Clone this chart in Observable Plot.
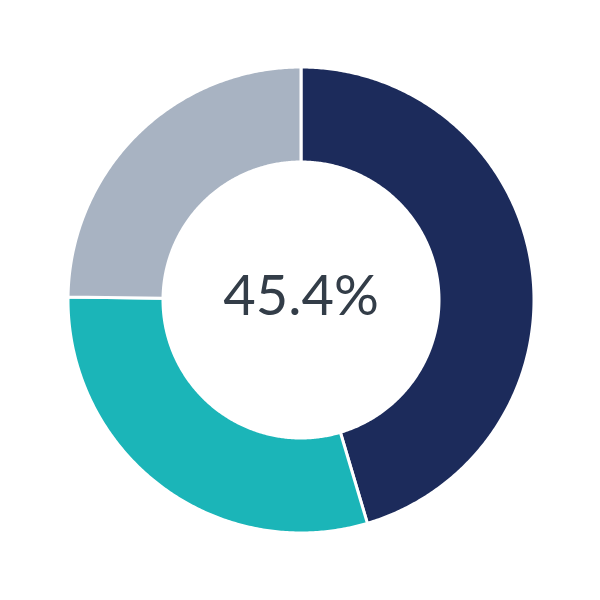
<!DOCTYPE html>
<html>
<head>
<meta charset="utf-8">
<script src="https://cdn.jsdelivr.net/npm/d3@7"></script>
<script src="https://cdn.jsdelivr.net/npm/@observablehq/plot@0.6"></script>
<style>
  html, body { margin: 0; padding: 0; background: #fff; }
  #chart svg { display: block; }
</style>
</head>
<body>
<div id="chart"></div>
<script>
const categories = ["A", "B", "C"];
const values = [45.4, 29.8, 24.8];
const colors = ["#1c2b5b", "#1bb5b8", "#a8b3c2"];
const centerLabel = "45.4%";

const outerR = 233, innerR = 138;
const pie = d3.pie().sort(null).value(d => d.value)(categories.map((c, i) => ({name: c, value: values[i]})));

// Build annulus-sector outlines from pie angles (geometry only)
const pts = [];
for (const a of pie) {
  const n = Math.max(4, Math.ceil((a.endAngle - a.startAngle) / (Math.PI / 360)));
  const ring = [];
  for (let k = 0; k <= n; k++) {
    const t = a.startAngle + (a.endAngle - a.startAngle) * k / n;
    ring.push({name: a.data.name, x: outerR * Math.sin(t), y: outerR * Math.cos(t)});
  }
  for (let k = n; k >= 0; k--) {
    const t = a.startAngle + (a.endAngle - a.startAngle) * k / n;
    ring.push({name: a.data.name, x: innerR * Math.sin(t), y: innerR * Math.cos(t)});
  }
  pts.push(...ring);
}

const chart = Plot.plot({
  width: 600,
  height: 600,
  margin: 0,
  x: {domain: [-300.5, 299.5], axis: null},
  y: {domain: [-300.5, 299.5], axis: null},
  color: {domain: categories, range: colors},
  marks: [
    Plot.line(pts, {x: "x", y: "y", z: "name", fill: "name", stroke: "white", strokeWidth: 3, curve: "linear-closed"}),
    Plot.text([centerLabel], {x: () => 0, y: () => 0, text: d => d, fontSize: 56, fontFamily: "Lato", fill: "#333d48", dy: -3})
  ]
});
document.getElementById("chart").appendChild(chart);
</script>
</body>
</html>
